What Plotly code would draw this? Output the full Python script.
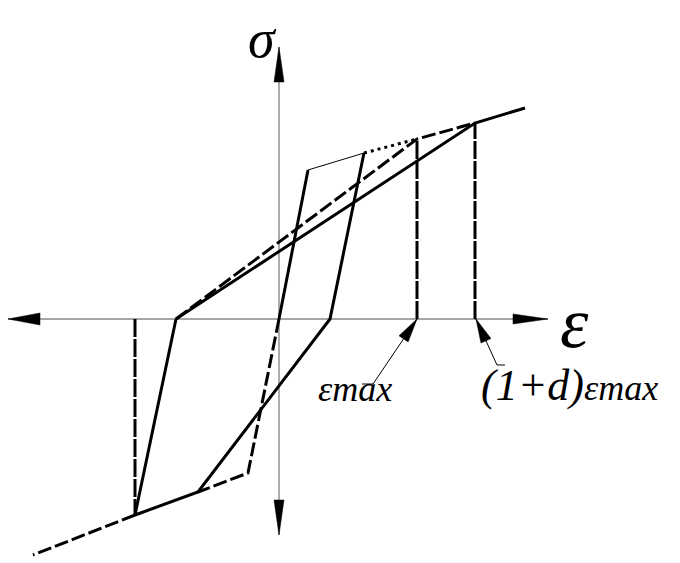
import plotly.graph_objects as go
import numpy as np

# schematic units: 1 unit = 100 px, origin where the axes cross
# key points of the hysteresis loop
pt_A = (-1.03, 0.00)      # reloading start on strain axis (negative side)
pt_B = (1.38, 1.80)       # eps_max on envelope
pt_C = (1.96, 1.96)       # (1+d) eps_max on envelope
pt_end = (2.46, 2.11)     # envelope continues
pt_D = (0.85, 1.66)
pt_E = (0.29, 1.49)
pt_K = (0.00, 0.00)
pt_G = (0.51, 0.00)
pt_F = (-0.81, -1.73)
pt_I = (-0.31, -1.54)
pt_H = (-1.44, -1.96)
pt_tail = (-2.46, -2.36)

eps_max = 1.38
eps_max_d = 1.96
eps_neg = -1.44

# axes extents
x_axis = (-2.71, 2.69)
y_axis = (-2.16, 2.72)

# leader lines for labels (tip, elbow, hook end)
leader_1 = [(1.38, 0.0), (0.94, -0.65), (0.83, -0.65)]
leader_2 = [(1.97, 0.0), (2.18, -0.46), (2.26, -0.46)]

BLACK = "black"
AXIS_GREY = "#8a8a8a"
FONT = "Liberation Serif"

fig = go.Figure()


def add_line(pts, dash="solid", width=3.0, color=BLACK):
    xs = [p[0] for p in pts]
    ys = [p[1] for p in pts]
    fig.add_trace(go.Scatter(x=xs, y=ys, mode="lines",
                             line=dict(color=color, width=width, dash=dash),
                             hoverinfo="skip", showlegend=False))


def add_head(tip, toward, length, half_w):
    # filled triangle with its tip at `tip`, pointing away from `toward`
    tip = np.array(tip)
    d = tip - np.array(toward)
    d = d / np.linalg.norm(d)
    n = np.array([-d[1], d[0]])
    base = tip - d * length
    p1 = base + n * half_w
    p2 = base - n * half_w
    fig.add_trace(go.Scatter(x=[tip[0], p1[0], p2[0], tip[0]],
                             y=[tip[1], p1[1], p2[1], tip[1]],
                             mode="lines", fill="toself", fillcolor=BLACK,
                             line=dict(color=BLACK, width=0.5),
                             hoverinfo="skip", showlegend=False))


# coordinate axes
add_line([(x_axis[0], 0), (x_axis[1], 0)], width=1.4, color=AXIS_GREY)
add_line([(0, y_axis[0]), (0, y_axis[1])], width=1.4, color=AXIS_GREY)
add_head((x_axis[1], 0), (0, 0), 0.35, 0.05)
add_head((x_axis[0], 0), (0, 0), 0.32, 0.06)
add_head((0, y_axis[1]), (0, 0), 0.35, 0.05)
add_head((0, y_axis[0]), (0, 0), 0.35, 0.05)

# unloading verticals
long_dash = "18px,2px"
add_line([(eps_max, 0), pt_B], dash=long_dash)
add_line([(eps_max_d, 0), pt_C], dash=long_dash)
add_line([(eps_neg, 0), pt_H], dash=long_dash)

# envelopes and branches
branch_dash = "14px,4px"
add_line([pt_A, pt_C, pt_end])
add_line([pt_A, pt_B, pt_C], dash=branch_dash)
add_line([pt_D, pt_B], dash="3px,4px")
add_line([pt_E, pt_D], width=1.0)
add_line([pt_D, pt_G, pt_F, pt_H, pt_A])
add_line([pt_E, pt_K])
add_line([pt_K, pt_I, pt_F], dash=branch_dash)
add_line([pt_H, pt_tail], dash=branch_dash)

# leaders
for ld in (leader_1, leader_2):
    add_line(ld, width=1.0)
    add_head(ld[0], ld[1], 0.24, 0.055)

# labels
fig.add_annotation(x=-0.17, xref="x", y=1.0, yref="paper", yanchor="top",
                   text="<i>σ</i>", showarrow=False, borderpad=0,
                   font=dict(family=FONT, size=54, color=BLACK))
fig.add_annotation(x=2.95, y=-0.04, text="<i>ε</i>", showarrow=False,
                   font=dict(family=FONT, size=72, color=BLACK))
fig.add_annotation(x=0.76, y=-0.70, text="<i>εmax</i>", showarrow=False,
                   font=dict(family=FONT, size=36, color=BLACK))
fig.add_annotation(x=2.90, y=-0.66,
                   text="<i><span style='font-size:44px'>(1+d)</span>εmax</i>",
                   showarrow=False, font=dict(family=FONT, size=36, color=BLACK))

# page body has an 8px margin, so shift ranges to keep the origin in place
fig.update_layout(
    width=680, height=563,
    margin=dict(l=0, r=0, t=0, b=0),
    paper_bgcolor="white", plot_bgcolor="white",
    xaxis=dict(range=[-2.71, 4.09], visible=False, fixedrange=True),
    yaxis=dict(range=[-2.52, 3.11], visible=False, fixedrange=True),
)

fig.write_html("out.html")
